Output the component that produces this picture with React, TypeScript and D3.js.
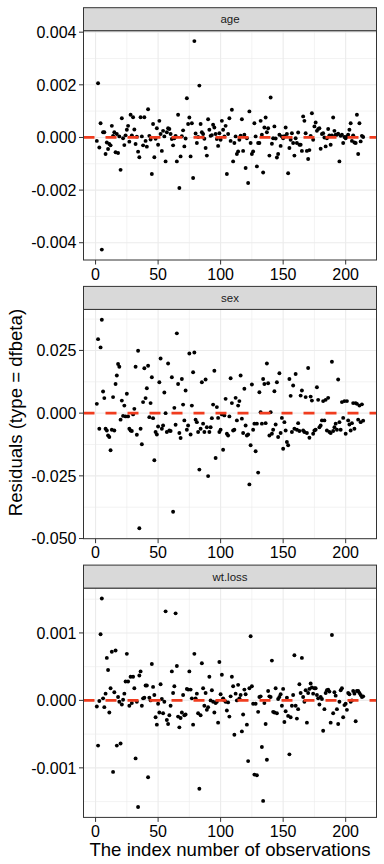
import React from "react";
import * as d3 from "d3";

const AGE_UNIT = 1e-4;
const ageDfbeta = [
  -1.3, 20.6, -3.8, 5.4, -42.6, 2.0, 2.0, -6.3, -1.9, -4.4,
  -2.5, -3.0, 4.4, 0.6, 2.0, -5.6, 1.3, -5.9, 0.4, -12.3,
  7.3, -0.3, -2.9, 0.8, 2.9, 4.4, -1.6, 8.6, 0.8, 7.7,
  3.0, -2.5, 0.3, -5.4, -7.5, 7.7, 0.4, -3.0, 7.7, -1.3,
  -3.5, 10.7, 0.6, -0.8, -13.9, 5.1, -7.5, -0.5, 3.5, -2.8,
  6.3, 1.3, -5.1, 2.5, 0.4, -9.1, 2.0, 3.5, 3.2, 1.3,
  -0.6, -3.0, -0.3,
  0.6, -9.1, 8.6, -19.2, -7.2, 0.5, 2.7, -3.4, -0.4, 14.9,
  5.1, 7.6, -7.2, 5.4, -15.4, 36.6, 1.5, -2.1, 0.2, 19.7,
  5.1, 2.0, 1.3, -0.5, -4.0, -6.9, 6.9, 2.9, 0.6, 0.9,
  4.8, 3.8, 1.3, -0.6, -3.2, 1.6, -0.9, 6.3, 2.9, 0.4,
  4.4, -13.9, 1.3, 7.3, -1.3, 10.5, -9.1, -2.1, 0.4, -6.3,
  -5.3, -0.9, 0.7, 6.9, -5.1, 1.0, -11.6, -0.3, -17.3, 9.9,
  -2.1, -6.3, -5.3, 5.4, 0.4, -11.0, -2.1, -2.1, 6.3, 1.0,
  -13.3, 3.8, 7.6, 2.0, 3.5, -6.9, 15.2, -2.4, -0.3, 4.2,
  -0.4, -7.6,
  -6.3, 1.0, -3.2, 0.4, -0.3, 0.5, 3.8, 1.3, -13.6, -4.0,
  -0.9, 1.6, -2.1, -6.9, -0.3, -2.1, 1.9, -2.8, -2.8, -5.1,
  8.0, 6.3, 1.6, -5.1, -8.2, -4.8, 0.6, 9.2, -0.9, 4.2,
  5.7, 2.5, 3.2, 3.5, -4.3, 1.3, 1.6, 0.0, -3.4, -0.3,
  3.2, 0.8, -2.8, 0.8, 7.6, 2.5, 1.0, 1.0, 1.4, -9.1,
  0.6, 1.0, -2.1, 0.2, -0.3, 0.4, 1.0, 2.9, 5.4, -1.3,
  0.8, -1.9, -2.1, 8.6, -6.3, 5.4, -1.5, 0.6, 0.2,
];

const SEX_UNIT = 1e-3;
const sexDfbeta = [
  3.7, 29.5, -6.2, 26.2, 37.2, 8.6, 6.0, -6.2, -6.9, -8.9,
  -9.5, -14.8, -6.6, 6.4, -6.9, 11.6, 15.0, 19.6, 18.5, -2.6,
  5.0, -1.1, 3.0, -1.3, 7.7, -1.3, -6.2, -6.9, -7.1, -0.5,
  1.7, 18.5, -8.6, 24.9, -45.9, -6.2, -12.4, 4.4, 17.9, 6.0,
  9.9, 18.9, -1.6, 4.0, 14.3, -2.0, -18.8, -7.5, -8.5, -5.3,
  12.3, 21.8, -6.2, -4.9, 8.2, 0.0, -7.5, 19.8, -6.9, -7.1,
  14.3, -39.3, 2.1, -4.6, 31.8, 11.6, -7.9, -9.9, 13.6, 3.4,
  -2.9, 9.0, -6.6, -4.9, 23.8, -8.5, 3.0, 16.3, 24.2, -2.6,
  -3.6, -7.5, -22.5, -6.2, 12.3, -4.2, -7.5, 13.4, -5.6, -25.1,
  -7.5, -5.6, -2.0, 3.4, 16.9, -17.9, 2.4, -1.9, -7.5, -6.6,
  -0.5, -14.6, -0.9, 5.7, -8.2, -8.9, -1.3, 13.9, 4.0, -6.9,
  -6.6, 6.1, -2.9, 3.0, 4.8, 15.0, -2.2, -7.9, 9.7, -4.9,
  -8.9, -8.5, -28.4, -12.8, 11.4, -6.6, -4.2, -15.2, -4.2, -23.7,
  8.3, 0.4, -4.2, 13.6, 11.6, -4.0, 19.8, 11.9, -8.9, 0.4,
  -8.2, -6.6, 8.7, -4.5, 12.3, -9.5, 15.9, -7.9, -1.9, -14.2,
  -3.6, -6.9, -11.5, -12.8, 13.6, 6.9, -7.5, 11.0, -6.2, 15.6,
  -6.6, -4.0, -7.1, 7.0, 9.0, -6.9, -7.5, 6.4, -7.9, 18.0,
  -9.8, 6.6, 5.0, -8.2, -6.9, -6.6, 10.3, 5.3, -5.6, -4.9,
  -2.9, 4.8, -2.9, 5.3, -6.9, 6.1, -7.5, -7.9, 20.5, -7.1,
  -5.6, -4.2, -6.6, 13.4, -3.6, -6.6, 4.4, -1.9, 4.8, -8.2,
  4.8, -2.9, -4.5, -6.9, -4.0, 4.0, -6.2, 4.0, 3.7, -2.6,
  3.0, -3.6, 3.5, -3.0,
];

const WT_UNIT = 1e-4;
const wtLossDfbeta = [
  -0.9, -6.7, -0.1, 9.8, 15.1, 0.3, -1.0, 1.0, 6.3, 4.5,
  -1.8, 1.8, 7.2, -10.6, 1.2, 7.4, -6.7, 0.5, -0.2, -6.4,
  -0.6, 0.1, 1.0, 2.8, 6.9, 2.8, -0.8, 3.5, -0.4, 3.5,
  1.8, -8.6, -0.2, -15.8, 3.7, 4.3, -0.8, 0.3, 0.4, 2.2,
  2.2, -11.4, 0.4, 0.0, 5.4, 2.0, 0.8, -2.5, -3.6, -0.5,
  -1.8, 2.4, 0.2, -1.9, -0.2, 13.2, -2.9, -3.5, -2.2, -0.8,
  4.3, 1.1, 2.1, 12.9, 5.1, -2.4, -4.0, -2.6, -1.8, 0.8,
  -2.2, -2.1, 1.7, 1.6, 4.3, 1.6, 0.3, -3.6, 6.9, 0.3,
  1.0, -1.9, -13.1, -2.2, 5.5, 1.8, -0.8, 1.1, -1.4, -1.0,
  3.5, 0.0, 1.5, -0.2, -1.8, -0.4, -0.2, -3.3, 5.7, 0.9,
  3.8, 0.3, 0.0, -0.2, -1.5, -0.3, -2.4, 0.6, 3.5, 2.1,
  -5.1, 1.0, 0.0, 2.3, 0.3, 0.8, -4.6, -2.1, 1.6, 0.9,
  -3.6, -9.0, 1.8, 9.5, 2.1, -0.5, -11.0, -0.5, -11.1, -1.7,
  0.5, 0.6, -6.9, -14.9, -0.4, -3.5, -8.8, 1.4, 0.6, 0.5,
  5.9, -1.7, -1.8, 1.8, -1.9, 0.2, 0.5, 0.9, -0.8, 1.7,
  -3.2, -1.6, 0.4, -2.3, -8.0, -2.5, -0.8, 0.8, 6.7, -0.8,
  -2.7, -1.3, 2.4, 1.1, 6.3, 0.5, -0.2, 1.5, -3.3, 1.1,
  1.7, 2.5, 1.9, 1.0, 1.8, 1.8, 0.8, 0.3, -0.6, 0.5,
  0.2, -4.5, -1.3, 1.1, 1.5, 1.6, 1.3, -3.3, 9.7, -1.9,
  1.2, 0.7, -1.3, -3.5, -0.2, 1.5, 1.8, -2.5, -0.7, -0.5,
  -1.4, 1.1, 0.9, -0.2, 0.0, 1.4, 1.0, -3.1, 1.4, 1.4,
  1.1, 0.8, 0.5, 0.6,
];

const covariateNames = ["age", "sex", "wt.loss"];
const xTicks = [0, 50, 100, 150, 200];
const yTicksAge = [-0.004, -0.002, 0, 0.002, 0.004];
const yTicksSex = [-0.05, -0.025, 0, 0.025];
const yTicksWt = [-0.001, 0, 0.001];
const yTitle = "Residuals (type = dfbeta)";
const xTitle = "The index number of observations";

// ---- layout ----
const W = 384;
const H = 864;
const PL = 83.5;
const PR = 376.5;
const STRIP_H = 23;
const PANEL_H = 229.3;
const FIRST_TOP = 7.7;
const ROW_STEP = 278.7;
const FONT = "'Liberation Sans', Arial, Helvetica, sans-serif";

const panels = [
  { name: covariateNames[0], values: ageDfbeta.map((v) => v * AGE_UNIT), ticks: yTicksAge },
  { name: covariateNames[1], values: sexDfbeta.map((v) => v * SEX_UNIT), ticks: yTicksSex },
  { name: covariateNames[2], values: wtLossDfbeta.map((v) => v * WT_UNIT), ticks: yTicksWt },
];

function expand(lo: number, hi: number): [number, number] {
  const pad = (hi - lo) * 0.05;
  return [lo - pad, hi + pad];
}

function minorBreaks(major: number[], domain: [number, number]) {
  const step = major[1] - major[0];
  const out: number[] = [];
  const ext = [major[0] - step, ...major, major[major.length - 1] + step];
  for (let i = 0; i < ext.length - 1; i++) {
    const m = (ext[i] + ext[i + 1]) / 2;
    if (m >= domain[0] && m <= domain[1]) out.push(m);
  }
  return out;
}

const fmt = (v: number) => (Math.abs(v) < 1e-12 ? "0.000" : v.toFixed(3));

export default function App() {
  const n = ageDfbeta.length;
  const xDomain = expand(1, n);
  const x = d3.scaleLinear().domain(xDomain).range([PL, PR]);
  const xMinor = minorBreaks(xTicks, xDomain);

  return (
    <svg
      width={W}
      height={H}
      viewBox={`0 0 ${W} ${H}`}
      style={{ position: "absolute", left: 0, top: 0, background: "#fff" }}
      fontFamily={FONT}
    >
      <rect x={0} y={0} width={W} height={H} fill="#fff" />
      {panels.map((p, k) => {
        const stripTop = FIRST_TOP + k * ROW_STEP;
        const top = stripTop + STRIP_H;
        const bottom = top + PANEL_H;
        const ext = d3.extent(p.values) as [number, number];
        const yDomain = expand(ext[0], ext[1]);
        const y = d3.scaleLinear().domain(yDomain).range([bottom, top]);
        const yMinor = minorBreaks(p.ticks, yDomain);
        const clipId = `clip-${k}`;
        return (
          <g key={p.name}>
            <defs>
              <clipPath id={clipId}>
                <rect x={PL} y={top} width={PR - PL} height={PANEL_H} />
              </clipPath>
            </defs>
            <rect x={PL} y={top} width={PR - PL} height={PANEL_H} fill="#fff" />
            <g clipPath={`url(#${clipId})`}>
              {xMinor.map((t) => (
                <line key={"xm" + t} x1={x(t)} x2={x(t)} y1={top} y2={bottom} stroke="#EBEBEB" strokeWidth={0.6} />
              ))}
              {yMinor.map((t) => (
                <line key={"ym" + t} x1={PL} x2={PR} y1={y(t)} y2={y(t)} stroke="#EBEBEB" strokeWidth={0.6} />
              ))}
              {xTicks.map((t) => (
                <line key={"xM" + t} x1={x(t)} x2={x(t)} y1={top} y2={bottom} stroke="#EBEBEB" strokeWidth={1.1} />
              ))}
              {p.ticks.map((t) => (
                <line key={"yM" + t} x1={PL} x2={PR} y1={y(t)} y2={y(t)} stroke="#EBEBEB" strokeWidth={1.1} />
              ))}
              {p.values.map((v, i) => (
                <circle key={i} cx={x(i + 1)} cy={y(v)} r={1.95} fill="#000" />
              ))}
              <line
                x1={PL}
                x2={PR}
                y1={y(0)}
                y2={y(0)}
                stroke="#F03C1E"
                strokeWidth={2.8}
                strokeDasharray="11,11"
              />
            </g>
            <rect x={PL} y={top} width={PR - PL} height={PANEL_H} fill="none" stroke="#333333" strokeWidth={1} />
            <rect x={PL} y={stripTop} width={PR - PL} height={STRIP_H} fill="#D9D9D9" stroke="#333333" strokeWidth={1} />
            <text
              x={(PL + PR) / 2}
              y={stripTop + STRIP_H / 2}
              dy="0.35em"
              textAnchor="middle"
              fontSize={11.5}
              fill="#1A1A1A"
            >
              {p.name}
            </text>
            {p.ticks.map((t) => (
              <g key={"yt" + t}>
                <line x1={PL - 4.5} x2={PL} y1={y(t)} y2={y(t)} stroke="#333333" strokeWidth={1} />
                <text x={PL - 7} y={y(t)} dy="0.36em" textAnchor="end" fontSize={16} fill="#000">
                  {fmt(t)}
                </text>
              </g>
            ))}
            {xTicks.map((t) => (
              <g key={"xt" + t}>
                <line x1={x(t)} x2={x(t)} y1={bottom} y2={bottom + 4.5} stroke="#333333" strokeWidth={1} />
                <text x={x(t)} y={bottom + 19.5} textAnchor="middle" fontSize={16} fill="#000">
                  {t}
                </text>
              </g>
            ))}
          </g>
        );
      })}
      <text
        transform={`translate(22, ${(FIRST_TOP + 2 * ROW_STEP + STRIP_H + PANEL_H + FIRST_TOP) / 2}) rotate(-90)`}
        textAnchor="middle"
        fontSize={18.6}
        fill="#000"
      >
        {yTitle}
      </text>
      <text x={(PL + PR) / 2} y={856} textAnchor="middle" fontSize={18.6} fill="#000">
        {xTitle}
      </text>
    </svg>
  );
}
